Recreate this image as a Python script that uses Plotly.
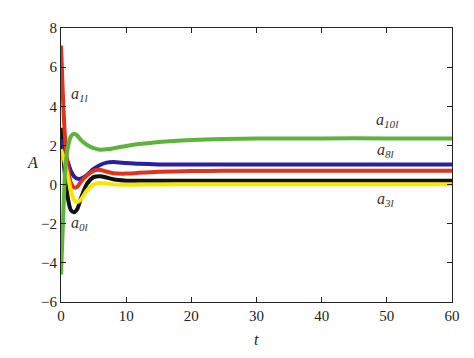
import plotly.graph_objects as go

t = [0, 0.3, 0.6, 1, 1.5, 2, 2.5, 3, 4, 5, 6, 7, 8, 10, 12, 15, 20, 25, 30, 40, 50, 60]
a0l = [2.9, 1.8, 0.5, -0.6, -1.3, -1.42, -1.25, -0.75, 0.05, 0.38, 0.43, 0.36, 0.27, 0.2, 0.19, 0.2, 0.2, 0.2, 0.2, 0.2, 0.2, 0.2]
a1l = [7.1, 4.5, 2.5, 1.0, 0.1, -0.15, -0.12, 0.12, 0.48, 0.7, 0.75, 0.66, 0.58, 0.56, 0.6, 0.65, 0.69, 0.7, 0.7, 0.7, 0.7, 0.7]
a3l = [1.8, 1.5, 1.1, 0.5, -0.3, -0.78, -0.9, -0.78, -0.3, 0.0, 0.08, 0.05, 0.01, -0.01, 0.0, 0.01, 0.02, 0.02, 0.02, 0.02, 0.02, 0.02]
a8l = [2.3, 2.0, 1.6, 1.2, 0.7, 0.42, 0.3, 0.3, 0.5, 0.8, 1.0, 1.12, 1.15, 1.1, 1.06, 1.03, 1.02, 1.02, 1.02, 1.02, 1.02, 1.02]
a10l = [-4.6, -2.0, 0.5, 1.8, 2.45, 2.6, 2.5, 2.3, 2.02, 1.86, 1.78, 1.8, 1.85, 1.97, 2.07, 2.18, 2.28, 2.33, 2.35, 2.36, 2.36, 2.36]

series = [
    ("a0l", a0l, "#111111"),
    ("a8l", a8l, "#2a1f9c"),
    ("a1l", a1l, "#e0321c"),
    ("a3l", a3l, "#f7e600"),
    ("a10l", a10l, "#5cb43a"),
]

labels = ["<i>a</i><sub><i>1l</i></sub>", "<i>a</i><sub><i>0l</i></sub>",
          "<i>a</i><sub><i>10l</i></sub>", "<i>a</i><sub><i>8l</i></sub>",
          "<i>a</i><sub><i>3l</i></sub>"]
label_t = [2.85, 2.85, 50.1, 49.8, 49.8]
label_a = [4.6, -2.0, 3.25, 1.75, -0.75]

SERIF = "serif"

fig = go.Figure()
for name, vals, col in series:
    fig.add_trace(go.Scatter(x=t, y=vals, mode="lines", name=name,
                             line=dict(color=col, width=4, shape="spline", smoothing=0.7),
                             showlegend=False))

for txt, lx, ly in zip(labels, label_t, label_a):
    fig.add_annotation(x=lx, y=ly, text=txt, showarrow=False,
                       font=dict(family=SERIF, size=16, color="#333333"))

fig.add_annotation(xref="paper", yref="paper", x=-0.072, y=0.51, text="<i>A</i>",
                   xanchor="center", yanchor="middle",
                   showarrow=False, font=dict(family=SERIF, size=16, color="#222222"))
fig.add_annotation(xref="paper", yref="paper", x=0.5, y=-0.136, text="<i>t</i>",
                   xanchor="center", yanchor="middle",
                   showarrow=False, font=dict(family=SERIF, size=16, color="#222222"))

axis_common = dict(showgrid=False, zeroline=False, showline=True, linecolor="#222222",
                   linewidth=1, mirror="ticks", ticks="inside", ticklen=5,
                   tickcolor="#222222", tickfont=dict(family=SERIF, size=15, color="#222222"))

fig.update_layout(
    width=466, height=350,
    margin=dict(l=53, r=22, t=14, b=56),
    paper_bgcolor="white", plot_bgcolor="white",
    font=dict(family=SERIF),
    xaxis=dict(range=[0, 60], tickvals=[0, 10, 20, 30, 40, 50, 60], **axis_common),
    yaxis=dict(range=[-6, 8], tickvals=[-6, -4, -2, 0, 2, 4, 6, 8], **axis_common),
)

fig.write_html("out.html")
